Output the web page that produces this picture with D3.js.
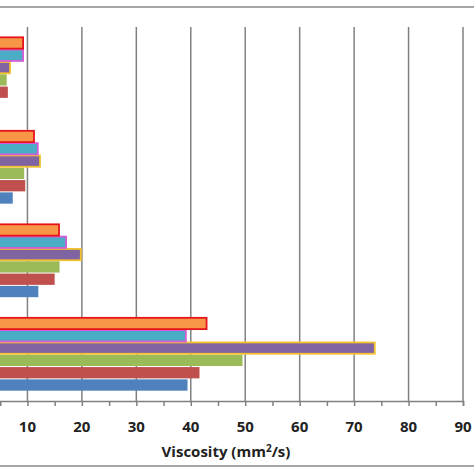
<!DOCTYPE html>
<html><head><meta charset="utf-8">
<script src="https://cdn.jsdelivr.net/npm/d3@7"></script>
<style>body{margin:0;background:#fff}</style>
</head><body>
<svg id="chart" width="474" height="474"></svg>
<script>
// groups from bottom to top, series bottom to top within each group
const groups = ["G1", "G2", "G3", "G4"];
const series = ["s1", "s2", "s3", "s4", "s5", "s6"];
const values = [
  [39.4, 41.6, 49.5, 73.8, 39.1, 42.9],
  [12.0, 15.0, 15.9, 19.8, 17.1, 15.8],
  [7.3, 9.6, 9.4, 12.3, 11.9, 11.2],
  [4.0, 6.4, 6.2, 6.8, 9.2, 9.2]
];
const fills = ["#4F81BD", "#C0504D", "#9BBB59", "#8064A2", "#4BACC6", "#F79646"];
const strokes = [null, null, null, "#F2C12E", "#D65BD8", "#E8141B"];
const ticks = [10, 20, 30, 40, 50, 60, 70, 80, 90];

const svg = d3.select("#chart");
const x = d3.scaleLinear().domain([0, 90]).range([-27, 463]);
const y0 = d3.scaleBand().domain(groups.slice().reverse()).range([27, 401]).paddingInner(0.21).paddingOuter(0.105);
const y1 = d3.scaleBand().domain(series.slice().reverse()).range([0, y0.bandwidth()]);

svg.append("line").attr("x1", 0).attr("x2", 474).attr("y1", 7).attr("y2", 7).attr("stroke", "#888").attr("stroke-width", 1.5);
svg.append("line").attr("x1", 0).attr("x2", 474).attr("y1", 466).attr("y2", 466).attr("stroke", "#888").attr("stroke-width", 1.5);

// gridlines
svg.append("g").selectAll("line").data(ticks).join("line")
  .attr("x1", d => x(d)).attr("x2", d => x(d))
  .attr("y1", 27).attr("y2", 401)
  .attr("stroke", "#808080").attr("stroke-width", 1.5);

const g = svg.append("g").selectAll("g").data(groups).join("g")
  .attr("transform", d => `translate(0,${y0(d)})`);
g.selectAll("rect").data((d, i) => values[i].map((v, j) => ({ v, j }))).join("rect")
  .attr("x", x(0))
  .attr("y", d => y1(series[d.j]) + 0.5)
  .attr("height", y1.bandwidth() - 1)
  .attr("width", d => x(d.v) - x(0))
  .attr("fill", d => fills[d.j])
  .attr("stroke", d => strokes[d.j] || "none")
  .attr("stroke-width", 1.8);

// x axis
const ax = svg.append("g").attr("transform", "translate(0,401)")
  .call(d3.axisBottom(x).tickValues(d3.range(5, 91, 5)).tickSize(5).tickFormat(""));
ax.select(".domain").attr("stroke", "#808080").attr("stroke-width", 1.5);
ax.selectAll("line").attr("stroke", "#808080").attr("stroke-width", 1.5);

svg.append("g").selectAll("text").data(ticks).join("text")
  .attr("x", d => x(d)).attr("y", 432)
  .attr("text-anchor", "middle")
  .attr("font-family", "Open Sans, sans-serif").attr("font-weight", "bold").attr("font-size", 15)
  .attr("fill", "#222").text(d => d);

const title = svg.append("text").attr("x", 226).attr("y", 457).attr("text-anchor", "middle")
  .attr("font-family", "Open Sans, sans-serif").attr("font-weight", "bold").attr("font-size", 15).attr("fill", "#222");
title.append("tspan").text("Viscosity (mm");
title.append("tspan").attr("dy", -5).attr("font-size", 10).text("2");
title.append("tspan").attr("dy", 5).text("/s)");
</script>
</body></html>
